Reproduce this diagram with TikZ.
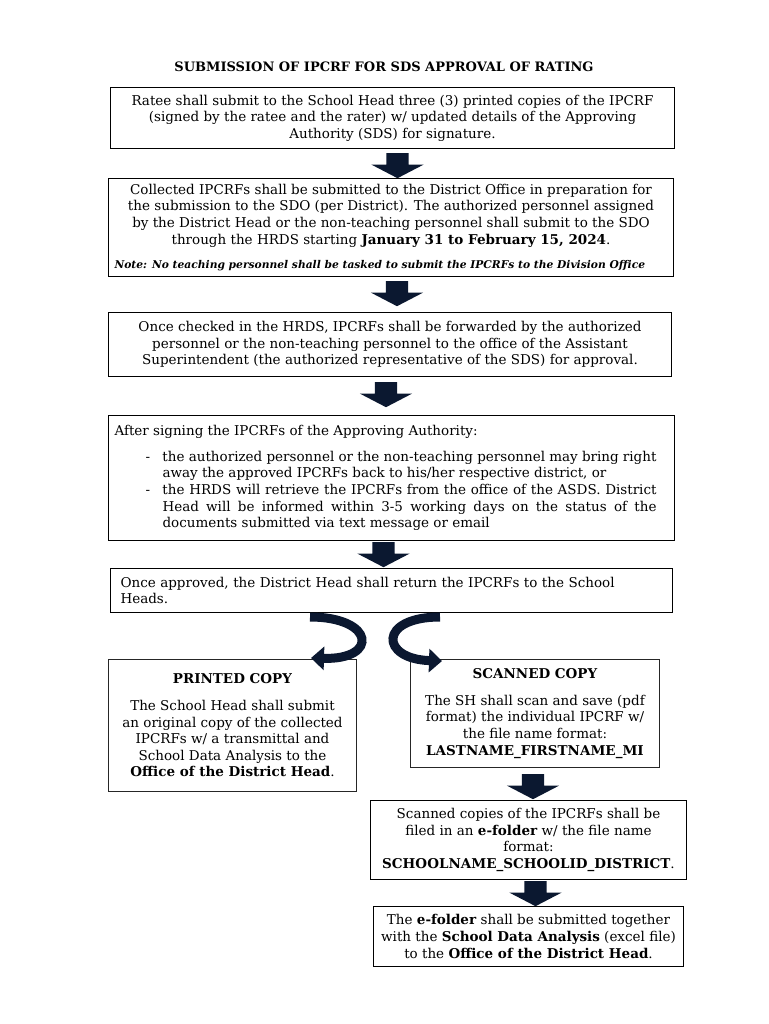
\documentclass[tikz,border=0pt]{standalone}
\usepackage{fontspec}
\setmainfont{DejaVu Serif}
\usetikzlibrary{shapes.arrows, arrows.meta, calc, positioning}
\definecolor{arrownavy}{HTML}{0B1830}
\newcommand{\bodyfont}{\fontsize{13.5}{16.6}\selectfont}
\newcommand{\dashitem}[1]{{\rightskip=12pt \hangindent=48pt \hangafter=1 \noindent\hspace*{31pt}\makebox[17pt][l]{-}#1\par}}
\tikzset{
  stepbox/.style={draw, line width=1pt, align=center, inner sep=0pt, font=\bodyfont, anchor=north west},
  blockarrow/.style={single arrow, shape border rotate=270, fill=arrownavy, draw=none, inner xsep=11pt, inner ysep=0pt, minimum width=52pt, minimum height=25pt, single arrow head extend=15pt, single arrow tip angle=125},
  turnarrow/.style={draw=arrownavy, line width=9pt, -{Triangle[length=13pt, width=23pt]}}
}

\begin{document}
\begin{tikzpicture}[x=1pt, y=-1pt]
        \fill[white] (0,0) rectangle (768,1024);
        \useasboundingbox (0,0) rectangle (768,1024);

        \node[font=\bfseries\fontsize{13}{15}\selectfont] (title) at (384,67) {SUBMISSION OF IPCRF FOR SDS APPROVAL OF RATING};

        \node[stepbox, minimum width=564pt, minimum height=61pt] (ratee) at (110,87) {Ratee shall submit to the School Head three (3) printed copies of the IPCRF\\(signed by the ratee and the rater) w/ updated details of the Approving\\Authority (SDS) for signature.};

        \node[blockarrow, below=4pt of ratee, xshift=5pt] (a1) {};

        \node[stepbox, minimum width=565pt, minimum height=98pt] (collected) at (108,178) {Collected IPCRFs shall be submitted to the District Office in preparation for\\the submission to the SDO (per District). The authorized personnel assigned\\by the District Head or the non-teaching personnel shall submit to the SDO\\through the HRDS starting \textbf{January 31 to February 15, 2024}.\\[8pt]
        \makebox[553pt][l]{\fontsize{10.7}{12}\selectfont\bfseries\itshape Note: No teaching personnel shall be tasked to submit the IPCRFs to the Division Office}};

        \node[blockarrow, below=4pt of collected, xshift=6pt] (a2) {};

        \node[stepbox, minimum width=563pt, minimum height=64pt] (forwarded) at (108,312) {Once checked in the HRDS, IPCRFs shall be forwarded by the authorized\\personnel or the non-teaching personnel to the office of the Assistant\\Superintendent (the authorized representative of the SDS) for approval.};

        \node[blockarrow, below=5pt of forwarded, xshift=-4pt] (a3) {};

        \node[stepbox, minimum width=566pt, minimum height=125pt, text width=554pt, inner xsep=6pt, align=justify] (signing) at (108,415) {After signing the IPCRFs of the Approving Authority:\par\vspace{9pt}
        \dashitem{the authorized personnel or the non-teaching personnel may bring right\linebreak away the approved IPCRFs back to his/her respective district, or}
        \dashitem{the HRDS will retrieve the IPCRFs from the office of the ASDS. District\linebreak Head will be informed within 3-5 working days on the status of the\linebreak documents submitted via text message or email}};

        \node[blockarrow, below=1pt of signing, xshift=-8pt] (a4) {};

        \node[stepbox, minimum width=562pt, minimum height=44pt, text width=542pt, inner xsep=10pt, align=left] (approved) at (110,568) {Once approved, the District Head shall return the IPCRFs to the School\\Heads.};

        \node[stepbox, draw=black!85, minimum width=248pt, minimum height=132pt] (printed) at (108,659) {\textbf{PRINTED COPY}\\[10pt]The School Head shall submit\\an original copy of the collected\\IPCRFs w/ a transmittal and\\School Data Analysis to the\\\textbf{Office of the District Head}.};

        \node[stepbox, draw=black!85, minimum width=249pt, minimum height=108pt] (scanned) at (410,659) {\textbf{SCANNED COPY}\\[10pt]The SH shall scan and save (pdf\\format) the individual IPCRF w/\\the file name format:\\\textbf{LASTNAME\_FIRSTNAME\_MI}};

        % turning arrows
        \draw[turnarrow] ($(approved.south west)+(200,4)$) .. controls +(65,0) and +(68,2) .. ($(printed.north east)+(-46,-1)$);
        \draw[turnarrow] ($(approved.south west)+(330,4)$) .. controls +(-62,0) and +(-62,-2) .. ($(scanned.north west)+(32,2)$);

        \node[blockarrow, below=6pt of scanned, xshift=-2pt] (a5) {};

        \node[stepbox, minimum width=316pt, minimum height=79pt] (efolder) at (370,800) {Scanned copies of the IPCRFs shall be\\filed in an \textbf{e-folder} w/ the file name\\format:\\\textbf{SCHOOLNAME\_SCHOOLID\_DISTRICT}.};

        \node[blockarrow, below=1pt of efolder, xshift=7pt] (a6) {};

        \node[stepbox, minimum width=310pt, minimum height=60pt] (submitted) at (373,906) {The \textbf{e-folder} shall be submitted together\\with the \textbf{School Data Analysis} (excel file)\\to the \textbf{Office of the District Head}.};
    \end{tikzpicture}
\end{document}
